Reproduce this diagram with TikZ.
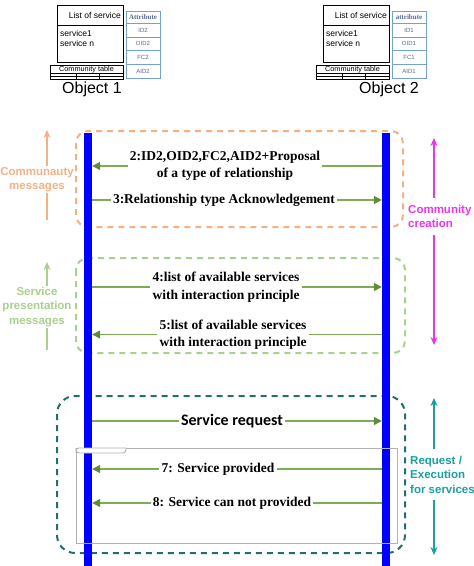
\documentclass[tikz,border=0pt]{standalone}
\usepackage{fontspec}
\setmainfont{Liberation Serif}
\setsansfont{Liberation Sans}
\newfontfamily\calibri{Carlito}
\usetikzlibrary{arrows.meta}

\definecolor{lifeblue}{RGB}{0,0,255}
\definecolor{commorange}{RGB}{244,177,131}
\definecolor{servgreen}{RGB}{169,209,142}
\definecolor{reqdash}{RGB}{35,110,110}
\definecolor{reqteal}{RGB}{25,160,160}
\definecolor{creamag}{RGB}{240,50,240}
\definecolor{msgline}{RGB}{125,172,85}
\definecolor{msghead}{RGB}{95,140,55}
\definecolor{attrblue}{RGB}{115,160,215}
\definecolor{attrtxt}{RGB}{85,105,145}
\definecolor{frameg}{RGB}{178,178,178}

\tikzset{
  cardtext/.style={font=\sffamily\fontsize{8.5}{10}\selectfont, inner sep=0pt},
  attrbox/.style={draw=attrblue, line width=0.7pt},
  attrtext/.style={font=\sffamily\fontsize{6}{7}\selectfont, text=attrtxt, inner sep=0pt},
  lifeline/.style={fill=lifeblue, minimum width=8pt, minimum height=433pt, inner sep=0pt},
  objname/.style={font=\sffamily\fontsize{16}{18}\selectfont},
  msglabel/.style={font=\fontsize{13.5}{17.5}\selectfont\bfseries, align=center, inner sep=2pt},
  msg/.style={draw=msgline, line width=1.3pt},
  msgto/.style={msg, -{Triangle[length=8pt,width=8pt,color=msghead]}},
  msgfrom/.style={msg, {Triangle[length=8pt,width=8pt,color=msghead]}-},
  groupbox/.style={line width=2pt, dash pattern=on 6pt off 5pt},
  sidetext/.style={font=\sffamily\bfseries\fontsize{11.5}{14.5}\selectfont, inner sep=1pt},
  sidearrow/.style={line width=1.4pt, -{Stealth[length=8pt,width=7pt]}},
}

\NewDocumentCommand{\objcard}{mmm}{%
\begin{scope}[shift={(#1,0)}]%chktex 36
% list of services
\draw[line width=1pt] (57,5) rectangle (123,62);
\draw[line width=1pt] (57,25) -- (123,25);
\node[cardtext, anchor=east] (list#3) at (121,15) {List of service};
\node[cardtext, anchor=north west, align=left] (serv#3) at (60,30) {service1\\service n};
% attribute column
\draw[attrbox] (126,11) rectangle (160,78);
\foreach \y in {23,37,50,64} {\draw[attrbox] (126,\y) -- (160,\y);}%chktex 1
\node[attrtext, font=\fontsize{7}{8}\selectfont\bfseries] (attr#3) at (143,17) {#2};
\foreach \y/\t in {30/ID,43/OID,57/FC,71/AID} {\node[attrtext] (\t#3) at (143,\y) {\t#3};}%chktex 1
% community table
\draw[line width=1pt] (50,65) rectangle (123,79);
\draw (50,73) -- (123,73) (50,76) -- (123,76);
\draw (76,73) -- (76,79) (99,73) -- (99,79);
\node[cardtext, font=\sffamily\fontsize{7.3}{8}\selectfont] (table#3) at (86.5,69.2) {Community table};
\end{scope}%
}

\begin{document}
\begin{tikzpicture}[x=1pt, y=-1pt]
\useasboundingbox (0,0) rectangle (474,566);

\objcard{0}{Attribute}{2}
\objcard{266}{attribute}{1}
\node[objname] (obj1) at (92,89) {Object 1};
\node[objname] (obj2) at (389,89) {Object 2};

% message groups
\draw[groupbox, draw=commorange, rounded corners=12pt] (76,131) rectangle (403,227);
\draw[groupbox, draw=servgreen, rounded corners=12pt] (76,258) rectangle (405,353);
\draw[groupbox, draw=reqdash, rounded corners=18pt] (57,396) rectangle (405,553);

% lifelines
\node[lifeline] (life1) at (88,349.5) {};
\node[lifeline] (life2) at (386,349.5) {};

% alternative frame
\draw[frameg, line width=0.9pt] (76,448) rectangle (397,543);
\draw[frameg, line width=0.9pt, fill=white] (76,448) -- (126,448) [rounded corners=3pt] -- (126,453) -- (76,453) -- cycle;

% messages
\node[msglabel] (m2) at (225,166) {2:ID2,OID2,FC2,AID2+Proposal\\of a type of relationship};
\draw[msgfrom] (life1.east |- m2) -- (m2.west);
\draw[msg] (m2.east) -- (life2.west |- m2);

\node[msglabel] (m3) at (224,200) {3:Relationship type Acknowledgement};
\draw[msg] (life1.east |- m3) -- (m3.west);
\draw[msgto] (m3.east) -- (life2.west |- m3);

\node[msglabel] (m4) at (226,287) {4:list of available services\\with interaction principle};
\draw[msg] (life1.east |- m4) -- (m4.west);
\draw[msgto] (m4.east) -- (life2.west |- m4);

\node[msglabel] (m5) at (233,334.5) {5:list of available services\\with interaction principle};
\draw[msgfrom] (life1.east |- m5) -- (m5.west);
\draw[msg] (m5.east) -- (life2.west |- m5);

\node[msglabel, font=\calibri\fontsize{16}{18}\selectfont\bfseries] (m6) at (232,421) {Service request};
\draw[msg] (life1.east |- m6) -- (m6.west);
\draw[msgto] (m6.east) -- (life2.west |- m6);

\node[msglabel] (m7) at (218,469) {7: Service provided};
\draw[msgfrom] (life1.east |- m7) -- (m7.west);
\draw[msg] (m7.east) -- (life2.west |- m7);

\node[msglabel] (m8) at (232,503) {8: Service can not provided};
\draw[msgfrom] (life1.east |- m8) -- (m8.west);
\draw[msg] (m8.east) -- (life2.west |- m8);

% side notes, left
\coordinate (cmTop) at (47,130);
\coordinate (cmBot) at (47,220);
\draw[sidearrow, commorange, {Stealth[length=8pt,width=7pt]}-] (cmTop) -- (cmBot);
\node[sidetext, text=commorange, align=center, fill=white] (cm) at (37,179.5) {Communauty\\messages};

\coordinate (spTop) at (47,262);
\coordinate (spBot) at (47,350);
\draw[sidearrow, servgreen, {Stealth[length=8pt,width=7pt]}-] (spTop) -- (spBot);
\node[sidetext, text=servgreen, align=center, fill=white] (sp) at (37,307) {Service\\presentation\\messages};

% side notes, right
\node[sidetext, text=creamag, align=left, anchor=west] (cc) at (407,216.5) {Community\\creation};
\coordinate (ccTop) at (434,138);
\coordinate (ccBot) at (434,345);
\draw[sidearrow, creamag] (ccTop |- cc.north) ++(0,-6) -- (ccTop);
\draw[sidearrow, creamag] (ccBot |- cc.south) ++(0,6) -- (ccBot);

\node[sidetext, text=reqteal, align=left, anchor=west] (re) at (409,474.5) {Request /\\Execution\\for services};
\coordinate (reTop) at (434,398);
\coordinate (reBot) at (434,555);
\draw[sidearrow, reqteal] (reTop |- re.north) ++(0,-6) -- (reTop);
\draw[sidearrow, reqteal] (reBot |- re.south) ++(0,6) -- (reBot);
\end{tikzpicture}
\end{document}
